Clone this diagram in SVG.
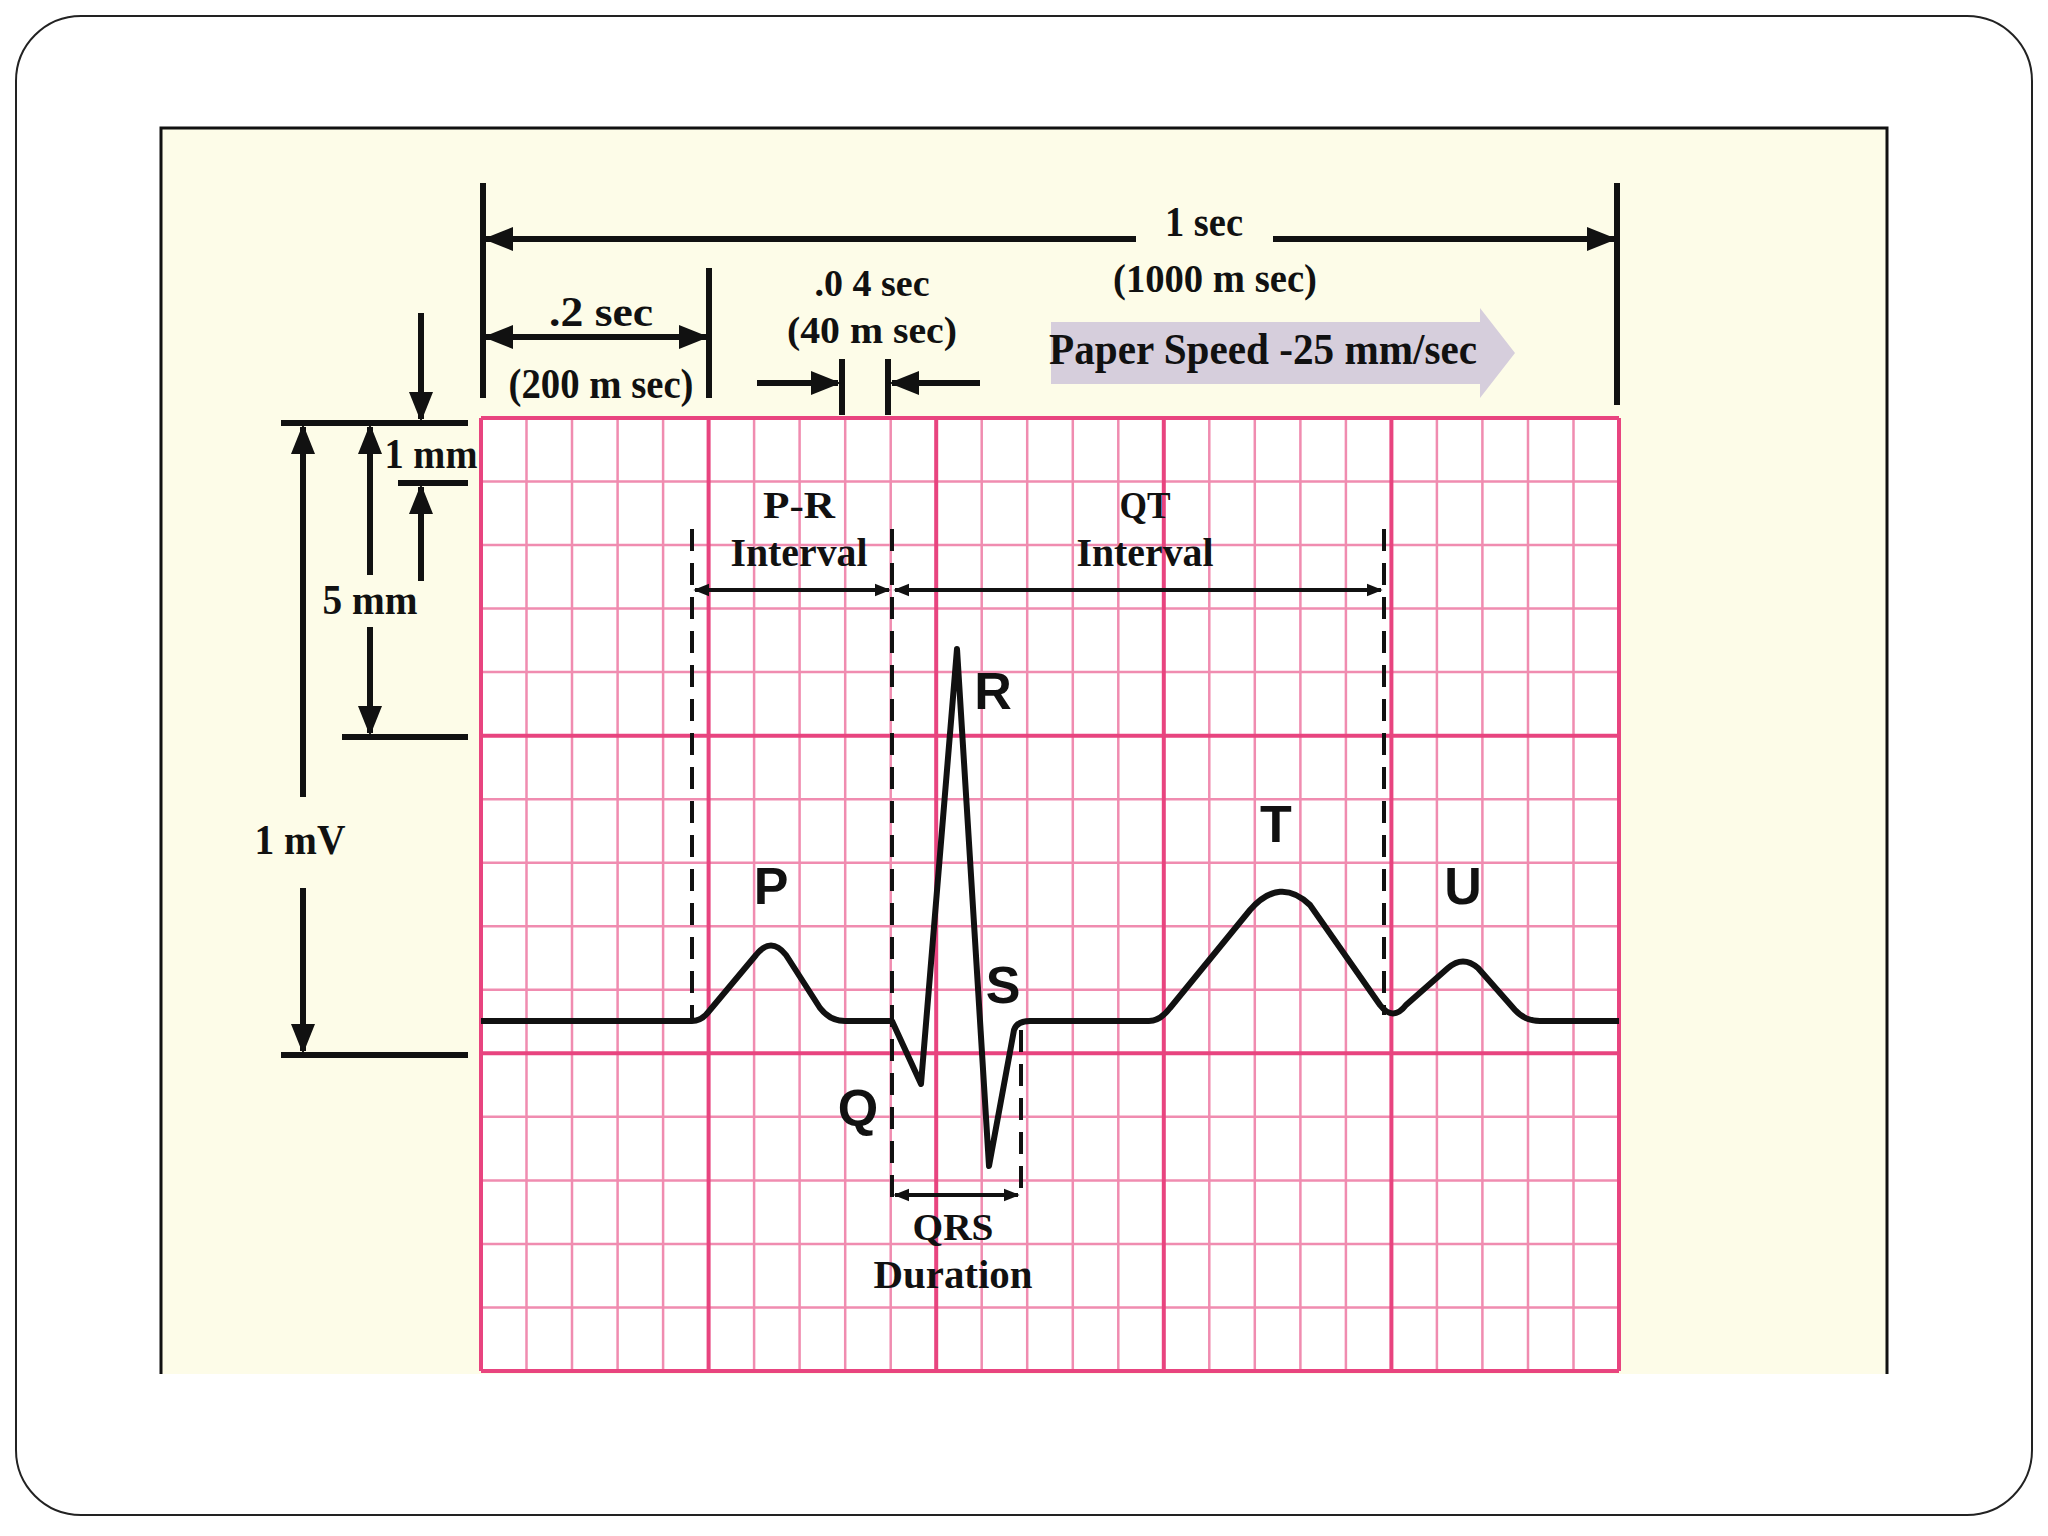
<svg xmlns="http://www.w3.org/2000/svg" width="2048" height="1536" viewBox="0 0 2048 1536">
<style>
.t{font-family:"Liberation Serif","Times New Roman",serif;font-weight:bold;fill:#111;text-anchor:middle}
.l{font-family:"Liberation Sans",Arial,sans-serif;font-weight:bold;fill:#111;text-anchor:middle;font-size:52px}
.k{stroke:#111;stroke-width:6;fill:none}
.d{stroke:#111;stroke-width:4;fill:none;stroke-dasharray:22 12}
</style>
<defs>
<marker id="a" viewBox="0 0 10 10" refX="9" refY="5" markerWidth="5" markerHeight="5" orient="auto-start-reverse" markerUnits="strokeWidth"><path d="M0 1 L10 5 L0 9 Z" fill="#111"/></marker>
<marker id="s" viewBox="0 0 10 10" refX="9" refY="5" markerWidth="4" markerHeight="4" orient="auto-start-reverse" markerUnits="strokeWidth"><path d="M0 1 L10 5 L0 9 Z" fill="#111"/></marker>
</defs>
<rect width="2048" height="1536" fill="#fff"/>
<rect x="16" y="16" width="2016" height="1499" rx="65" fill="#fff" stroke="#222" stroke-width="2"/>
<rect x="161" y="128" width="1726" height="1246" fill="#fdfce8"/>
<path d="M161 1374 V128 H1887 V1374" fill="none" stroke="#111" stroke-width="3"/>
<g id="grid">
<rect x="481" y="418" width="1138" height="953" fill="#fff"/>
<path stroke="#f08cb0" stroke-width="2.5" fill="none" d="M526.5 418V1371M572 418V1371M617.6 418V1371M663.1 418V1371M754.1 418V1371M799.6 418V1371M845.2 418V1371M890.7 418V1371M981.7 418V1371M1027.2 418V1371M1072.8 418V1371M1118.3 418V1371M1209.3 418V1371M1254.8 418V1371M1300.4 418V1371M1345.9 418V1371M1436.9 418V1371M1482.4 418V1371M1528 418V1371M1573.5 418V1371M481 481.5H1619M481 545.1H1619M481 608.6H1619M481 672.1H1619M481 799.2H1619M481 862.7H1619M481 926.2H1619M481 989.8H1619M481 1116.8H1619M481 1180.4H1619M481 1243.9H1619M481 1307.4H1619"/>
<path stroke="#e8447f" stroke-width="4" fill="none" d="M481 418V1371M708.6 418V1371M936.2 418V1371M1163.8 418V1371M1391.4 418V1371M1619 418V1371M481 418H1619M481 735.7H1619M481 1053.3H1619M481 1371H1619"/>
</g>
<g id="connectors">
<path class="k" d="M483 183V398M1617 183V405M709 268V398"/>
<path class="k" marker-start="url(#a)" d="M486 239H1136"/>
<path class="k" marker-end="url(#a)" d="M1273 239H1614"/>
<path class="k" marker-start="url(#a)" marker-end="url(#a)" d="M486 337H706"/>
<path class="k" d="M842 359V415M888 359V415"/>
<path class="k" marker-end="url(#a)" d="M757 383H838"/>
<path class="k" marker-end="url(#a)" d="M980 383H892"/>
<path d="M1051 322H1480V308L1515 353L1480 398V384H1051Z" fill="#d6cedc"/>
<path class="k" d="M281 423H468M281 1055H468M342 737H468M398 483H468"/>
<path class="k" marker-end="url(#a)" d="M303 797V427"/>
<path class="k" marker-end="url(#a)" d="M303 888V1051"/>
<path class="k" marker-end="url(#a)" d="M370 575V427"/>
<path class="k" marker-end="url(#a)" d="M370 627V733"/>
<path class="k" marker-end="url(#a)" d="M421 313V419"/>
<path class="k" marker-end="url(#a)" d="M421 581V487"/>
<path class="d" d="M692 529V1021M892 529V1199M1384 529V1015M1021 1030V1199"/>
<path stroke="#111" stroke-width="4" fill="none" marker-start="url(#s)" marker-end="url(#s)" d="M695 590H889"/>
<path stroke="#111" stroke-width="4" fill="none" marker-start="url(#s)" marker-end="url(#s)" d="M895 590H1381"/>
<path stroke="#111" stroke-width="4" fill="none" marker-start="url(#s)" marker-end="url(#s)" d="M895 1195H1018"/>
</g>
<g id="ecg"><path stroke="#111" stroke-width="6" fill="none" stroke-linejoin="round" d="M481 1021H692Q702 1021 710 1010L756 955Q771 936 786 955L820 1008Q830 1021 845 1021H892L921 1084L957 649L989 1166L1014 1030Q1017 1021 1030 1021H1149Q1160 1021 1170 1008L1250 910Q1280 876 1310 905L1380 1005Q1393 1022 1406 1005L1448 968Q1463 955 1478 968L1515 1010Q1525 1021 1540 1021H1619"/></g>
<g id="labels">
<text class="t" x="1204" y="236" font-size="42" textLength="78" lengthAdjust="spacingAndGlyphs">1 sec</text>
<text class="t" x="1215" y="292" font-size="40" textLength="204" lengthAdjust="spacingAndGlyphs">(1000 m sec)</text>
<text class="t" x="601" y="326" font-size="42" textLength="104" lengthAdjust="spacingAndGlyphs">.2 sec</text>
<text class="t" x="601" y="398" font-size="42" textLength="185" lengthAdjust="spacingAndGlyphs">(200 m sec)</text>
<text class="t" x="872" y="296" font-size="38" textLength="115" lengthAdjust="spacingAndGlyphs">.0 4 sec</text>
<text class="t" x="872" y="343" font-size="38" textLength="170" lengthAdjust="spacingAndGlyphs">(40 m sec)</text>
<text class="t" x="1263" y="364" font-size="44" textLength="428" lengthAdjust="spacingAndGlyphs">Paper Speed -25 mm/sec</text>
<text class="t" x="431" y="468" font-size="42" textLength="93" lengthAdjust="spacingAndGlyphs">1 mm</text>
<text class="t" x="370" y="614" font-size="42" textLength="95" lengthAdjust="spacingAndGlyphs">5 mm</text>
<text class="t" x="300" y="854" font-size="42" textLength="91" lengthAdjust="spacingAndGlyphs">1 mV</text>
<text class="t" x="799" y="518" font-size="38" textLength="72" lengthAdjust="spacingAndGlyphs">P-R</text>
<text class="t" x="799" y="566" font-size="40" textLength="137" lengthAdjust="spacingAndGlyphs">Interval</text>
<text class="t" x="1145" y="518" font-size="38" textLength="51" lengthAdjust="spacingAndGlyphs">QT</text>
<text class="t" x="1145" y="566" font-size="40" textLength="137" lengthAdjust="spacingAndGlyphs">Interval</text>
<text class="t" x="953" y="1240" font-size="38" textLength="81" lengthAdjust="spacingAndGlyphs">QRS</text>
<text class="t" x="953" y="1288" font-size="40" textLength="159" lengthAdjust="spacingAndGlyphs">Duration</text>
<text class="l" x="993" y="709">R</text>
<text class="l" x="771" y="904">P</text>
<text class="l" x="1276" y="842">T</text>
<text class="l" x="1463" y="904">U</text>
<text class="l" x="1003" y="1003">S</text>
<text class="l" x="858" y="1126">Q</text>
</g>
</svg>
